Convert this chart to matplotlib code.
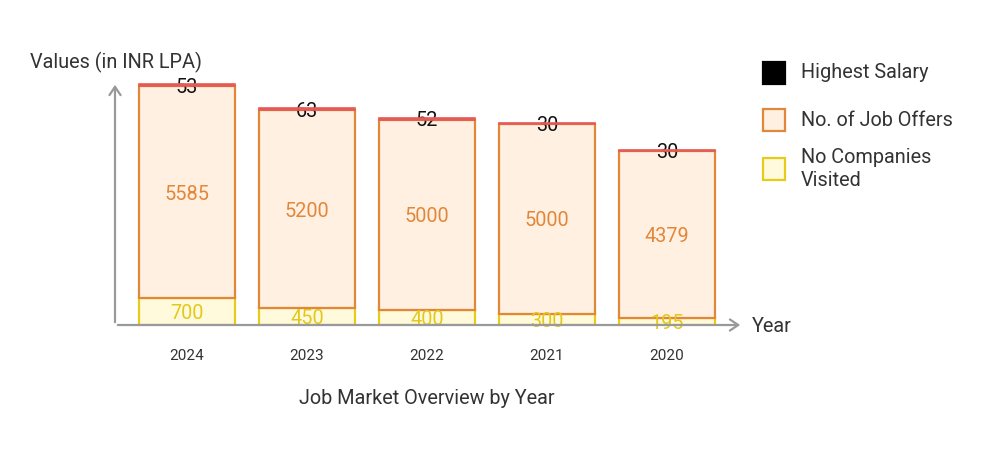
import matplotlib
matplotlib.use("Agg")
import matplotlib.pyplot as plt
from matplotlib.patches import Rectangle
import numpy as np

plt.rcParams['font.family'] = ['Roboto', 'DejaVu Sans']

years = ["2024", "2023", "2022", "2021", "2020"]
companies = [700, 450, 400, 300, 195]
offers = [5585, 5200, 5000, 5000, 4379]
salary = [53, 63, 52, 30, 30]

W, H = 992, 458
fig = plt.figure(figsize=(W / 100, H / 100), dpi=100)
x0, x1, y0, y1 = 115, 745, 325, 80
ax = fig.add_axes([x0 / W, 1 - y0 / H, (x1 - x0) / W, (y0 - y1) / H])
ax.set_xlim(-0.6, 4.65)
ax.set_ylim(0, 6451)

x = np.arange(len(years))
bw = 0.8
y_fill, y_edge = "#fffadb", "#e6cc1a"
o_fill, o_edge = "#fff0e1", "#e2873a"
r_col = "#e65a55"

ax.bar(x, companies, bw, color=y_fill, edgecolor=y_edge, linewidth=1.6, zorder=2)
ax.bar(x, offers, bw, bottom=companies, color=o_fill, edgecolor=o_edge, linewidth=1.6, zorder=2)
bot2 = np.array(companies) + np.array(offers)
ax.bar(x, salary, bw, bottom=bot2, color=r_col, edgecolor=r_col, linewidth=1.2, zorder=4)

fs = 14.3
for i in range(len(years)):
    ax.text(x[i], companies[i] / 2, str(companies[i]), ha="center", va="center_baseline",
            color="#e3c81c", fontsize=fs, zorder=3)
    ax.text(x[i], companies[i] + offers[i] / 2, str(offers[i]), ha="center", va="center_baseline",
            color="#e2873a", fontsize=fs, zorder=3)
    ax.text(x[i], bot2[i] + salary[i] / 2, str(salary[i]), ha="center", va="center_baseline",
            color="#111111", fontsize=fs, zorder=3)

for s in ax.spines.values():
    s.set_visible(False)
ax.set_xticks([])
ax.set_yticks([])
ax.patch.set_alpha(0)

gray = "#999999"
fig.add_artist(matplotlib.patches.FancyArrowPatch((x0 / W, 1 - y0 / H), ((x1 - 2) / W, 1 - y0 / H),
               transform=fig.transFigure, arrowstyle="->,head_length=6,head_width=4",
               color=gray, linewidth=1.6, mutation_scale=1))
fig.add_artist(matplotlib.patches.FancyArrowPatch((x0 / W, 1 - y0 / H), (x0 / W, 1 - (y1 + 2) / H),
               transform=fig.transFigure, arrowstyle="->,head_length=6,head_width=4",
               color=gray, linewidth=1.6, mutation_scale=1))

txt = "#333333"
for i, yr in enumerate(years):
    fig.text((187 + 120 * i) / W, 1 - 355 / H, yr, ha="center", va="center_baseline", fontsize=11, color=txt)

fig.text(30 / W, 1 - 60 / H, "Values (in INR LPA)", ha="left", va="center_baseline", fontsize=fs, color=txt)
fig.text(752 / W, 1 - 325 / H, "Year", ha="left", va="center_baseline", fontsize=fs, color=txt)
fig.text(427 / W, 1 - 396 / H, "Job Market Overview by Year", ha="center", va="center_baseline", fontsize=fs, color=txt)

leg = [("Highest Salary", "#000000", "#000000", 73),
       ("No. of Job Offers", o_fill, o_edge, 120),
       ("No Companies\nVisited", y_fill, y_edge, 169)]
for label, fc, ec, cy in leg:
    fig.add_artist(Rectangle((763 / W, 1 - (cy + 11) / H), 22 / W, 22 / H, transform=fig.transFigure,
                             facecolor=fc, edgecolor=ec, linewidth=1.6))
    fig.text(801 / W, 1 - cy / H, label, ha="left", va="center", fontsize=fs, color=txt, linespacing=1.25)

fig.savefig("out.png", dpi=100)
